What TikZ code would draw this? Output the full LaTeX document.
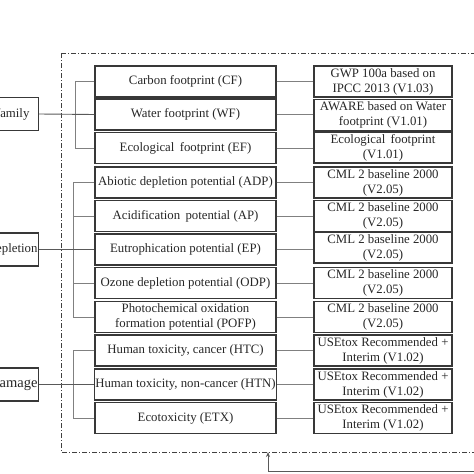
\documentclass[tikz,border=0pt]{standalone}
\usepackage{fontspec}
\setmainfont{Liberation Serif}
\usepackage{tikz}
\usetikzlibrary{arrows.meta}

\tikzset{
  midbox/.style={draw=black!78, line width=1.1pt, minimum width=181pt, minimum height=31pt,
    inner sep=1pt, align=center, text=black!85, font=\fontsize{12.8}{15}\selectfont},
  methbox/.style={midbox, minimum width=138pt},
  catbox/.style={midbox, minimum width=0pt, minimum height=33pt, anchor=east,
    text width=70pt, align=right, inner xsep=2pt},
  link/.style={draw=black!50, line width=0.8pt},
  catlink/.style={draw=black!65, line width=0.9pt},
  frame/.style={draw=black!75, line width=1pt, dash pattern=on 5pt off 2pt on 1pt off 2pt}
}

\begin{document}
\begin{tikzpicture}[x=1pt, y=-1pt]

\useasboundingbox (0,0) rectangle (474,474);
\clip (0,0) rectangle (474,474);

% dash-dot frame
\draw[frame] (61,53) rectangle (474.5,452);

% categories (cut at left edge)
\node[catbox, inner xsep=9pt] (fam) at (39,114) {family};
\node[catbox, inner xsep=1pt] (dep) at (39,249.5) {depletion};
\node[catbox, inner xsep=1pt, font=\fontsize{14.5}{16}\selectfont] (dam) at (39,384.5) {damage};

% indicators
\node[midbox] (cf)   at (185.5,81.5) {Carbon footprint (CF)};
\node[midbox] (wf)   at (185.5,114.5) {Water footprint (WF)};
\node[midbox] (ef)   at (185.5,148) {Ecological\, footprint (EF)};
\node[midbox] (adp)  at (185.5,182.5) {Abiotic depletion potential (ADP)};
\node[midbox] (ap)   at (185.5,216) {Acidification\, potential (AP)};
\node[midbox] (ep)   at (185.5,249.5) {Eutrophication potential (EP)};
\node[midbox] (odp)  at (185.5,283) {Ozone depletion potential (ODP)};
\node[midbox] (pofp) at (185.5,317) {Photochemical oxidation\\formation potential (POFP)};
\node[midbox] (htc)  at (185.5,350.5) {Human toxicity, cancer (HTC)};
\node[midbox] (htn)  at (185.5,384.5) {Human toxicity, non-cancer (HTN)};
\node[midbox] (etx)  at (185.5,418) {Ecotoxicity (ETX)};

% methods
\node[methbox] (mcf)   at (383,81.5) {GWP 100a based on\\IPCC 2013 (V1.03)};
\node[methbox] (mwf)   at (383,115) {AWARE based on Water\\footprint (V1.01)};
\node[methbox] (mef)   at (383,147.5) {Ecological\, footprint\\(V1.01)};
\node[methbox] (madp)  at (383,182.5) {CML 2 baseline 2000\\(V2.05)};
\node[methbox] (map)   at (383,216) {CML 2 baseline 2000\\(V2.05)};
\node[methbox] (mep)   at (383,247.5) {CML 2 baseline 2000\\(V2.05)};
\node[methbox] (modp)  at (383,283) {CML 2 baseline 2000\\(V2.05)};
\node[methbox] (mpofp) at (383,317) {CML 2 baseline 2000\\(V2.05)};
\node[methbox] (mhtc)  at (383,350.5) {USEtox Recommended +\\Interim (V1.02)};
\node[methbox] (mhtn)  at (383,384.5) {USEtox Recommended +\\Interim (V1.02)};
\node[methbox] (metx)  at (383,418) {USEtox Recommended +\\Interim (V1.02)};

% buses
\coordinate (busa) at (75,0);
\coordinate (busb) at (73,0);

\draw[link] (cf.west) -| (busa |- ef.west) -- (ef.west);
\draw[link] (adp.west) -| (busb |- pofp.west) -- (pofp.west);
\draw[link] (ap.west) -- (busb |- ap.west);
\draw[link] (odp.west) -- (busb |- odp.west);
\draw[link] (htc.west) -| (busb |- etx.west) -- (etx.west);

\draw[catlink] (fam.east) -- (wf.west);
\draw[catlink] (dep.east) -- (ep.west);
\draw[catlink] (dam.east) -- (htn.west);

% indicator to method
\foreach \a in {cf,wf,ef,adp,ap,ep,odp,pofp,htc,htn,etx}
  \draw[link] (\a.east) -- (\a.east -| m\a.west);

% feedback arrow
\coordinate (fbin) at (268,452);
\coordinate (fbout) at (480,471);
\draw[catlink, -{Stealth[length=5pt, width=4pt]}] (fbout) -| (fbin);

\end{tikzpicture}
\end{document}
